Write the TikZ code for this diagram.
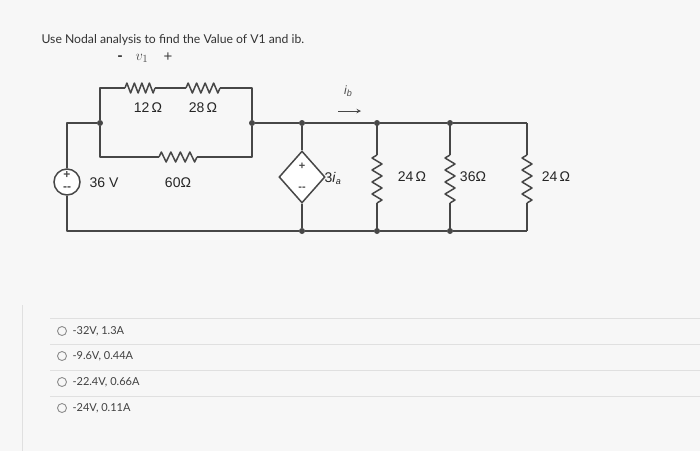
\documentclass[tikz,border=0pt]{standalone}
\usepackage{fontspec}
\usetikzlibrary{shapes.geometric}
\setmainfont{Lato}
\newfontfamily\cf{Liberation Sans}
\begin{document}
\begin{tikzpicture}[x=1pt,y=-1pt,
  wire/.style={draw=black!72,line width=2.2pt,line join=round},
  res/.style={draw=black!72,line width=1.5pt,line join=round},
  dot/.style={circle,fill=black!72,inner sep=0pt,minimum size=6pt},
  lab/.style={font=\cf\fontsize{14}{16}\selectfont,text=black!85},
  opt/.style={font=\fontsize{11}{13}\selectfont,text=black!75,anchor=west},
  sep/.style={draw=black!12,line width=0.8pt}]
\useasboundingbox (0,0) rectangle (700,451);
\fill[black!3] (0,0) rectangle (700,451);
\newcommand\zzh[3]{\pgfmathsetmacro\zw{(#2-#1)/4}%
 \draw[res] (#1,#3) \foreach \k in {1,...,4}{ -- ++(\zw/4,-5) -- ++(\zw/2,10) -- ++(\zw/4,-5)};}
\newcommand\zzv[3]{\pgfmathsetmacro\zw{(#3-#2)/4}%
 \draw[res] (#1,#2) \foreach \k in {1,...,4}{ -- ++(-5,\zw/4) -- ++(10,\zw/2) -- ++(-5,\zw/4)};}
% title
\node[anchor=west,font=\fontsize{12.2}{14}\selectfont,text=black!80] (title) at (38,40) {Use Nodal analysis to find the Value of V1 and ib.};
\node[font=\cf\bfseries\fontsize{15}{16}\selectfont,text=black!75] (vm) at (120,58) {-};
\node[font=\fontsize{15}{16}\selectfont,text=black!70] (vone) at (142,58) {$v_1$};
\node[font=\cf\fontsize{15}{16}\selectfont,text=black!75] (vp) at (168,57) {+};
% coordinates
\coordinate (tl) at (67,123);
\coordinate (bl) at (67,231);
\node[dot] (na) at (100,123) {};
\node[dot] (nb) at (252,123) {};
\node[dot] (t1) at (302,123) {};
\node[dot] (t2) at (377,123) {};
\node[dot] (t3) at (450,123) {};
\coordinate (t4) at (527,123);
\node[dot] (b1) at (302,231) {};
\node[dot] (b2) at (377,231) {};
\node[dot] (b3) at (450,231) {};
\coordinate (b4) at (527,231);
% left loop with source
\node[circle,draw=black!72,line width=1.5pt,minimum size=26pt,inner sep=0pt,fill=white] (vs) at (67,182) {};
\node[font=\cf\bfseries\fontsize{12}{12}\selectfont,text=black!70] (vsp) at (67,175) {+};
\node[font=\cf\bfseries\fontsize{12}{12}\selectfont,text=black!70] (vsm) at (67,189) {--};
\draw[wire] (vs.north) -- (tl) -- (na);
\draw[wire] (vs.south) -- (bl) -- (b1) -- (b2) -- (b3) -- (b4);
\node[lab] (l36) at (104,183) {36 V};
% top box
\draw[wire] (na) -- (100,88) -- (125,88);
\zzh{125}{155}{88}
\draw[wire] (155,88) -- (186,88);
\zzh{186}{220}{88}
\draw[wire] (220,88) -- (252,88) -- (nb);
\draw[wire] (na) -- (100,157) -- (159,157);
\zzh{159}{197}{157}
\draw[wire] (197,157) -- (252,157) -- (nb);
\node[lab] (l12) at (148,108) {12\,Ω};
\node[lab] (l28) at (203,108) {28\,Ω};
\node[lab] (l60) at (178,183) {60Ω};
\draw[wire] (nb) -- (t1) -- (t2) -- (t3) -- (t4);
% dependent source
\node[diamond,draw=black!72,line width=1.5pt,minimum width=46pt,minimum height=52pt,inner sep=0pt,fill=white] (ds) at (302,177) {};
\node[font=\cf\bfseries\fontsize{11}{11}\selectfont,text=black!70] (dsp) at (302,166) {+};
\node[font=\cf\bfseries\fontsize{11}{11}\selectfont,text=black!70] (dsm) at (302,189) {--};
\draw[wire] (t1) -- (ds.north);
\draw[wire] (ds.south) -- (b1);
\node[lab,anchor=west] (l3i) at (321,178) {3\textit{i}\raisebox{-2pt}{\fontsize{9}{9}\selectfont\textit{a}}};
% ib
\node[font=\cf\itshape\fontsize{12}{12}\selectfont,text=black!70] (ib) at (348,91) {i\raisebox{-2pt}{\fontsize{9}{9}\selectfont b}};
\coordinate (iba) at (338,111);
\coordinate (ibb) at (361,111);
\draw[black!72,line width=1pt,-stealth] (iba) -- (ibb);
% shunt resistors
\foreach \x/\n in {377/1,450/2,527/3}{
  \draw[wire] (\x,123) -- (\x,155);
  \zzv{\x}{155}{203}
  \draw[wire] (\x,203) -- (\x,231);
}
\node[lab] (r1) at (412,177) {24\,Ω};
\node[lab] (r2) at (473,177) {36Ω};
\node[lab] (r3) at (556,177) {24\,Ω};
% options
\draw[sep] (22,305) -- (22,451);
\foreach \y in {318,344,370,396}{\draw[sep] (50,\y) -- (700,\y);}
\foreach \y/\t/\n in {331/-32V{,} 1.3A/o1,356/-9.6V{,} 0.44A/o2,382/-22.4V{,} 0.66A/o3,408/-24V{,} 0.11A/o4}{
  \node[circle,draw=black!45,line width=0.9pt,minimum size=9pt,inner sep=0pt] (c\n) at (62,\y) {};
  \node[opt] (\n) at (69,\y) {\t};
}
\end{tikzpicture}
\end{document}
